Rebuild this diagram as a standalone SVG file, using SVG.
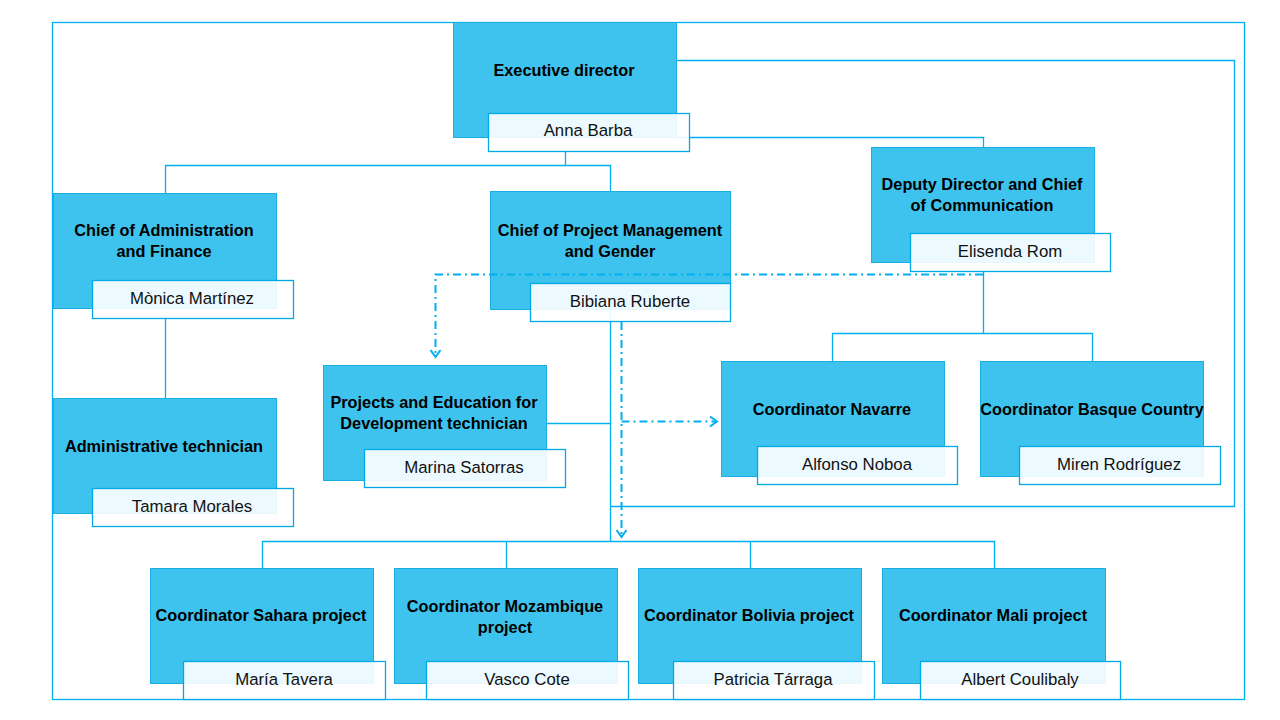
<svg xmlns="http://www.w3.org/2000/svg" width="1280" height="720" viewBox="0 0 1280 720">
<defs>
<style>
.frame{fill:none;stroke:#00B0F0;stroke-width:1.3}
.ln{fill:none;stroke:#00B0F0;stroke-width:1.3}
.dd{fill:none;stroke:#00B0F0;stroke-width:2;stroke-dasharray:8 4 2 4}
.box{fill:#3EC3EE;stroke:#1AAEE2;stroke-width:1}
.nm{fill:#ffffff;fill-opacity:0.9;stroke:#00A8E6;stroke-width:1.3}
.t{font-family:"Liberation Sans",Arial,sans-serif;font-weight:bold;font-size:16.3px;fill:#000;text-anchor:middle}
.n{font-family:"Liberation Sans",Arial,sans-serif;font-size:16.8px;fill:#111;text-anchor:middle}
</style>
<marker id="arr" markerWidth="14" markerHeight="14" refX="10" refY="6" orient="auto" markerUnits="userSpaceOnUse">
<polyline points="3,1 10,6 3,11" fill="none" stroke="#00B0F0" stroke-width="2"/>
</marker>
</defs>
<rect width="1280" height="720" fill="#ffffff"/>
<rect class="frame" x="52.5" y="22.5" width="1192" height="677"/>
<g id="connectors">
<polyline class="ln" points="676,60.5 1234.5,60.5 1234.5,506.5 610,506.5"/>
<polyline class="ln" points="676,137.5 983.5,137.5 983.5,147"/>
<polyline class="ln" points="565.5,151 565.5,165.5 165.5,165.5 165.5,193"/>
<polyline class="ln" points="565.5,165.5 610.5,165.5 610.5,191"/>
<line class="ln" x1="165.5" y1="319" x2="165.5" y2="398"/>
<polyline class="ln" points="983.5,271 983.5,333.5 832.5,333.5 832.5,361"/>
<polyline class="ln" points="983.5,333.5 1092.5,333.5 1092.5,361"/>
<line class="ln" x1="546" y1="423.5" x2="610.5" y2="423.5"/>
<line class="ln" x1="610.5" y1="310" x2="610.5" y2="541.5"/>
<polyline class="ln" points="262.5,568 262.5,541.5 994.5,541.5 994.5,568"/>
<line class="ln" x1="506.5" y1="541.5" x2="506.5" y2="568"/>
<line class="ln" x1="750.5" y1="541.5" x2="750.5" y2="568"/>
</g>
<g id="exec">
<rect class="box" x="453.5" y="22.5" width="223" height="115"/>
<text class="t" x="564" y="76">Executive director</text>
<rect class="nm" x="488.5" y="113.5" width="201" height="38"/>
<text class="n" x="588" y="136">Anna Barba</text>
</g>
<g id="chief-admin">
<rect class="box" x="53.5" y="193.5" width="223" height="115"/>
<text class="t" x="164" y="236">Chief of Administration</text>
<text class="t" x="164" y="257">and Finance</text>
<rect class="nm" x="92.5" y="280.5" width="201" height="38"/>
<text class="n" x="192" y="304">Mònica Martínez</text>
</g>
<g id="admin-tech">
<rect class="box" x="53.5" y="398.5" width="223" height="115"/>
<text class="t" x="164" y="452">Administrative technician</text>
<rect class="nm" x="92.5" y="488.5" width="201" height="38"/>
<text class="n" x="192" y="512">Tamara Morales</text>
</g>
<g id="chief-project">
<rect class="box" x="490.5" y="191.5" width="240" height="118"/>
<text class="t" x="610" y="236">Chief of Project Management</text>
<text class="t" x="610" y="257">and Gender</text>
<rect class="nm" x="530.5" y="283.5" width="200" height="38"/>
<text class="n" x="630" y="307">Bibiana Ruberte</text>
</g>
<g id="deputy">
<rect class="box" x="871.5" y="147.5" width="223" height="115"/>
<text class="t" x="982" y="190">Deputy Director and Chief</text>
<text class="t" x="982" y="211">of Communication</text>
<rect class="nm" x="910.5" y="233.5" width="200" height="38"/>
<text class="n" x="1010" y="257">Elisenda Rom</text>
</g>
<g id="projects-edu">
<rect class="box" x="323.5" y="365.5" width="223" height="115"/>
<text class="t" x="434" y="408">Projects and Education for</text>
<text class="t" x="434" y="429">Development technician</text>
<rect class="nm" x="364.5" y="449.5" width="201" height="38"/>
<text class="n" x="464" y="473">Marina Satorras</text>
</g>
<g id="navarre">
<rect class="box" x="721.5" y="361.5" width="223" height="115"/>
<text class="t" x="832" y="415">Coordinator Navarre</text>
<rect class="nm" x="757.5" y="446.5" width="200" height="38"/>
<text class="n" x="857" y="470">Alfonso Noboa</text>
</g>
<g id="basque">
<rect class="box" x="980.5" y="361.5" width="223" height="115"/>
<text class="t" x="1092" y="415">Coordinator Basque Country</text>
<rect class="nm" x="1019.5" y="446.5" width="201" height="38"/>
<text class="n" x="1119" y="470">Miren Rodríguez</text>
</g>
<g id="sahara">
<rect class="box" x="150.5" y="568.5" width="223" height="115"/>
<text class="t" x="261" y="621">Coordinator Sahara project</text>
<rect class="nm" x="183.5" y="661.5" width="202" height="38"/>
<text class="n" x="284" y="685">María Tavera</text>
</g>
<g id="mozambique">
<rect class="box" x="394.5" y="568.5" width="223" height="115"/>
<text class="t" x="505" y="612">Coordinator Mozambique</text>
<text class="t" x="505" y="633">project</text>
<rect class="nm" x="426.5" y="661.5" width="202" height="38"/>
<text class="n" x="527" y="685">Vasco Cote</text>
</g>
<g id="bolivia">
<rect class="box" x="638.5" y="568.5" width="223" height="115"/>
<text class="t" x="749" y="621">Coordinator Bolivia project</text>
<rect class="nm" x="673.5" y="661.5" width="201" height="38"/>
<text class="n" x="773" y="685">Patricia Tárraga</text>
</g>
<g id="mali">
<rect class="box" x="882.5" y="568.5" width="223" height="115"/>
<text class="t" x="993" y="621">Coordinator Mali project</text>
<rect class="nm" x="920.5" y="661.5" width="200" height="38"/>
<text class="n" x="1020" y="685">Albert Coulibaly</text>
</g>
<g id="connectors-dashed">
<polyline class="dd" points="983,274.5 435.5,274.5 435.5,357" marker-end="url(#arr)"/>
<line class="dd" x1="621.5" y1="322" x2="621.5" y2="537" marker-end="url(#arr)"/>
<line class="dd" x1="621.5" y1="421.5" x2="717" y2="421.5" marker-end="url(#arr)"/>
</g>
</svg>
